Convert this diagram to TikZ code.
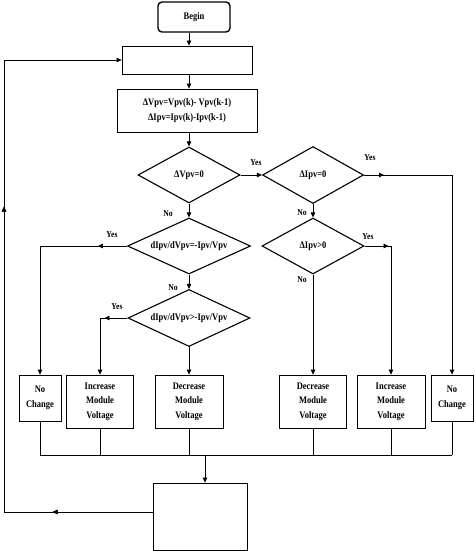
\documentclass[tikz,border=0pt]{standalone}
\usepackage{fontspec}
\setmainfont{Liberation Serif}[FakeStretch=0.85]
\usetikzlibrary{shapes.geometric, arrows.meta, decorations.markings}

\begin{document}
\begin{tikzpicture}[x=1pt, y=-1pt, line width=0.8pt, black,
    box/.style={draw, rectangle, inner sep=1pt, align=center, font=\bfseries\fontsize{10}{14.5}\selectfont},
    startbox/.style={draw, rectangle, rounded corners=4pt, line width=1.4pt, font=\bfseries\fontsize{10}{11}\selectfont},
    decision/.style={draw, diamond, aspect=2.2, inner sep=0pt, line width=1.1pt, font=\bfseries\fontsize{10}{11}\selectfont},
    lbl/.style={inner sep=0pt, font=\bfseries\fontsize{9}{10}\selectfont},
    arr/.style={-{Triangle[length=5pt,width=4.5pt]}},
    midarr/.style={postaction={decorate}, decoration={markings, mark=at position #1 with {\arrow{Triangle[length=5pt,width=4.5pt]}}}}]
    \useasboundingbox (0,0) rectangle (474,551);

    % Draw the top part of the chart
    \node[startbox, minimum width=72pt, minimum height=30pt] (begin) at (194,17) {Begin};
    \node[box, minimum width=130pt, minimum height=28pt] (init) at (187,60) {};
    \node[box, minimum width=140pt, minimum height=43pt] (delta) at (187,110.5) {ΔVpv=Vpv(k)- Vpv(k-1)\\ΔIpv=Ipv(k)-Ipv(k-1)};

    % Draw the decisions
    \node[decision, minimum width=102pt, minimum height=56pt] (d1) at (189,175) {ΔVpv=0};
    \node[decision, minimum width=101pt, minimum height=57pt] (d2) at (313,175) {ΔIpv=0};
    \node[decision, minimum width=123pt, minimum height=56pt] (d3) at (189,246) {dIpv/dVpv=-Ipv/Vpv};
    \node[decision, minimum width=122pt, minimum height=57pt] (d4) at (189,318) {dIpv/dVpv>-Ipv/Vpv};
    \node[decision, minimum width=102pt, minimum height=56pt] (d5) at (313,246) {ΔIpv>0};

    % Draw the action boxes
    \node[box, minimum width=42pt, minimum height=46pt] (nc1) at (40,398) {No\\Change};
    \node[box, minimum width=67pt, minimum height=53pt] (inc1) at (100,401.5) {Increase\\Module\\Voltage};
    \node[box, minimum width=68pt, minimum height=53pt] (dec1) at (189,401.5) {Decrease\\Module\\Voltage};
    \node[box, minimum width=67pt, minimum height=53pt] (dec2) at (313,401.5) {Decrease\\Module\\Voltage};
    \node[box, minimum width=68pt, minimum height=53pt] (inc2) at (391,401.5) {Increase\\Module\\Voltage};
    \node[box, minimum width=42pt, minimum height=46pt] (nc2) at (452,398) {No\\Change};
    \node[box, minimum width=94pt, minimum height=67pt] (final) at (200,516.5) {};

    % Yes / No labels
    \node[lbl] (y1) at (256,163) {Yes};
    \node[lbl] (y2) at (370,158) {Yes};
    \node[lbl] (n1) at (168,214) {No};
    \node[lbl] (n2) at (302,213) {No};
    \node[lbl] (y3) at (112,235) {Yes};
    \node[lbl] (n3) at (173,288) {No};
    \node[lbl] (y4) at (117,307) {Yes};
    \node[lbl] (y5) at (368,237) {Yes};
    \node[lbl] (n5) at (302,280) {No};

    % Draw the connectors
    \draw[arr] (d1 |- begin.south) -- (d1 |- init.north);
    \draw[arr] (d1 |- init.south) -- (d1 |- delta.north);
    \draw[arr] (d1 |- delta.south) -- (d1.north);
    \draw[arr] (d1.east) -- (d2.west);
    \draw[arr] (d1.south) -- (d3.north);
    \draw[arr] (d3.south) -- (d4.north);
    \draw[arr] (d4.south) -- (dec1.north);
    \draw[arr] (d2.south) -- (d5.north);
    \draw[arr] (d5.south) -- (dec2.north);
    \draw[arr, midarr=20pt] (d2.east) -- (nc2.north |- d2.east) -- (nc2.north);
    \draw[arr, midarr=24pt] (d5.east) -- (inc2.north |- d5.east) -- (inc2.north);
    \draw[arr, midarr=29pt] (d3.west) -- (nc1.north |- d3.west) -- (nc1.north);
    \draw[arr, midarr=23pt] (d4.west) -- (inc1.north |- d4.west) -- (inc1.north);

    % Draw the collecting line and the loop back
    \coordinate (bus) at (205,455);
    \coordinate (loopL) at (4,512);
    \foreach \b in {nc1, inc1, dec1, dec2, inc2, nc2} {
        \draw (\b.south) -- (\b.south |- bus);
    }
    \draw (nc1.south |- bus) -- (nc2.south |- bus);
    \draw[arr] (bus) -- (bus |- final.north);
    \draw[arr, midarr=100pt, midarr=454pt] (loopL -| final.west) -- (loopL) -- (loopL |- init.west) -- (init.west);
\end{tikzpicture}
\end{document}
